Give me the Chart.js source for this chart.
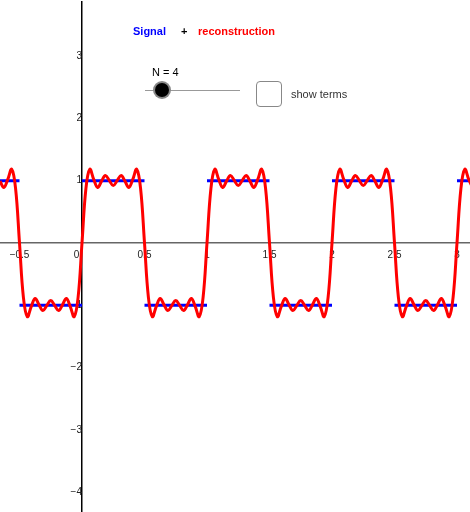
<!DOCTYPE html>
<html><head><meta charset="utf-8">
<script src="https://cdn.jsdelivr.net/npm/chart.js@4/dist/chart.umd.min.js"></script>
<style>
html,body{margin:0;padding:0;background:#fff;font-family:"Liberation Sans",Arial,sans-serif;overflow:hidden;}
#wrap{position:relative;width:470px;height:512px;overflow:hidden;}
canvas{position:absolute;left:0;top:-7px;}
.ov{position:absolute;font-size:11px;}
</style></head><body>
<div id="wrap">
<canvas id="c" width="470" height="528"></canvas>
<div class="ov" style="left:133px;top:25px;color:#0000ff;font-weight:bold;">Signal</div>
<div class="ov" style="left:181px;top:25px;color:#000;font-weight:bold;">+</div>
<div class="ov" style="left:198px;top:25px;color:#ff0000;font-weight:bold;">reconstruction</div>
<div class="ov" style="left:152px;top:66px;color:#000;">N = 4</div>
<div style="position:absolute;left:145px;top:90px;width:95px;height:1px;background:#999;"></div>
<div style="position:absolute;left:155px;top:83px;width:14px;height:14px;border-radius:50%;background:#000;box-shadow:0 0 0 2px #888;"></div>
<div style="position:absolute;left:256px;top:81px;width:24px;height:24px;border:1px solid #888;border-radius:4px;background:#fff;"></div>
<div class="ov" style="left:291px;top:88px;color:#333;">show terms</div>
</div>
<script>
// one period (x step 1/32) of the N=4 reconstruction
const periodValues = [0,0.874,1.184,1.022,0.892,0.993,1.085,1.002,0.922,1.002,1.085,0.993,0.892,1.022,1.184,0.874,
  0,-0.874,-1.184,-1.022,-0.892,-0.993,-1.085,-1.002,-0.922,-1.002,-1.085,-0.993,-0.892,-1.022,-1.184,-0.874];
const signalStarts = [-1,-0.5,0,0.5,1,1.5,2,2.5,3];
const signalLevels = [1,-1,1,-1,1,-1,1,-1,1];
const xTicks = [-0.5,0,0.5,1,1.5,2,2.5,3];
const yTicks = [-4,-3,-2,-1,1,2,3];

const recon = [];
for (let k = -22; k <= 100; k++) recon.push({x: k/32, y: periodValues[((k%32)+32)%32]});
const datasets = [];
signalStarts.forEach((s,i)=>{
  datasets.push({data:[{x:s,y:signalLevels[i]},{x:s+0.5,y:signalLevels[i]}],borderColor:'#0000ff',borderWidth:3,pointRadius:0,showLine:true,order:2});
});
datasets.push({data:recon,borderColor:'#ff0000',borderWidth:3,pointRadius:0,showLine:true,tension:0.4,order:1});

new Chart(document.getElementById('c'),{
  type:'scatter',
  data:{datasets},
  options:{
    responsive:false,animation:false,
    layout:{padding:0},
    plugins:{legend:{display:false},tooltip:{enabled:false}},
    scales:{
      x:{type:'linear',min:-0.656,max:3.104,position:{y:0},
        afterBuildTicks:a=>{a.ticks=xTicks.map(v=>({value:v}));},
        grid:{display:false,tickLength:4,color:'#666'},
        border:{color:'#666',width:1.5},
        ticks:{color:'#222',font:{size:10,family:'Liberation Sans'},padding:2,maxRotation:0,autoSkip:false,
          callback:v=>v===0?'0    ':(v<0?'\u2212':'')+String(Math.abs(v))}},
      y:{type:'linear',min:-4.32,max:3.87,position:{x:0},
        afterBuildTicks:a=>{a.ticks=yTicks.map(v=>({value:v}));},
        grid:{display:false,tickLength:4},
        border:{color:'#000',width:1.5},
        ticks:{color:'#222',font:{size:10,family:'Liberation Sans'},padding:3,autoSkip:false,
          callback:v=>(v<0?'\u2212':'')+String(Math.abs(v))}}
    }
  }
});
</script>
</body></html>
